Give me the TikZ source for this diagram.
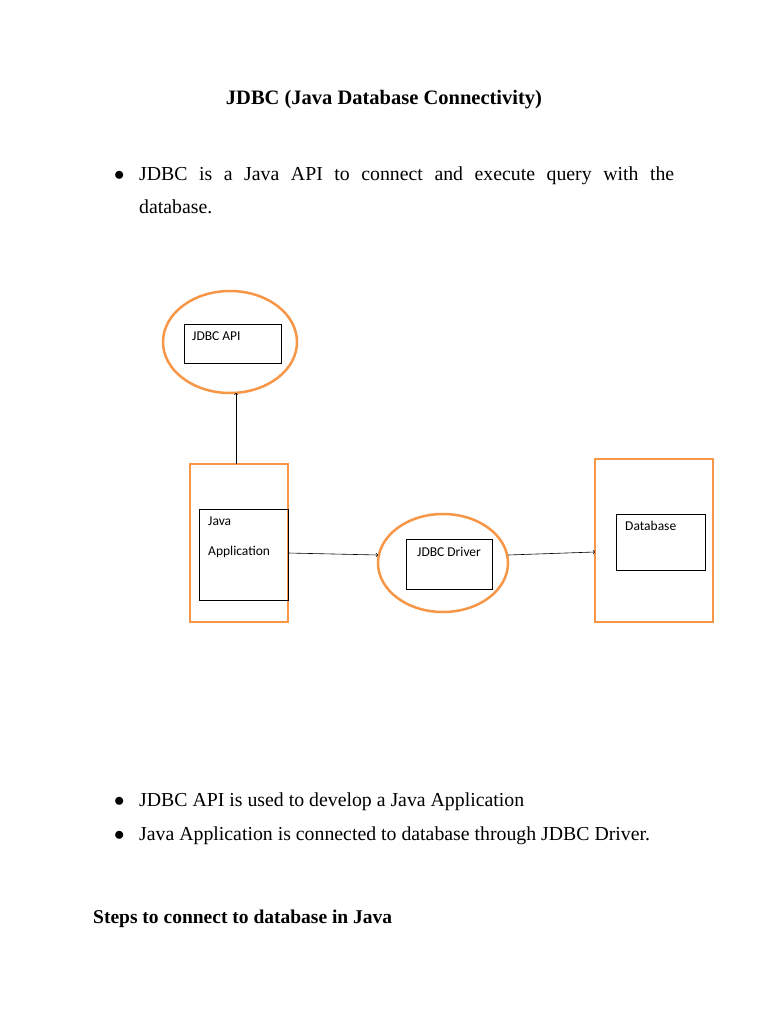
\documentclass[tikz,border=0pt]{standalone}
\usepackage{fontspec}
\setmainfont{Liberation Serif}
\newfontfamily\carlitofont{Carlito}
\usetikzlibrary{shapes.geometric}
\definecolor{org}{RGB}{247,150,70}
\begin{document}
\begin{tikzpicture}[x=1pt,y=-1pt,
 obox/.style={draw=org,line width=2.5pt},
 tbox/.style={draw=black,line width=0.6pt},
 lbl/.style={anchor=west,inner sep=0pt,font=\carlitofont\fontsize{13.5}{16}\selectfont},
 body/.style={anchor=base west,inner sep=0pt,font=\fontsize{19.8}{24}\selectfont},
 arr/.style={->,line width=0.6pt}]
\useasboundingbox (0,0) rectangle (768,1024);
\node[font=\bfseries\fontsize{20.5}{24}\selectfont] (title) at (384,100) {JDBC (Java Database Connectivity)};
\node[body] (b1) at (114,181) {$\bullet$};
\node[body] (t1) at (139,181) {\makebox[535pt][s]{JDBC is a Java API to connect and execute query with the}};
\node[body] (t1b) at (139,214) {database.};
% API
\node[obox,ellipse,minimum width=134pt,minimum height=102pt] (apiE) at (230,342) {};
\draw[tbox] (184,324) rectangle (281,363);
\node[lbl] (api) at (192,336) {JDBC API};
% Java app
\draw[obox] (190,464) rectangle (288,622);
\draw[tbox] (199,509) rectangle (288,600);
\node[lbl] (j1) at (208,521) {Java};
\node[lbl] (j2) at (208,552) {Application};
\coordinate (jtop) at (236,464);
\coordinate (eb) at (236,393);
\draw[arr] (jtop) -- (eb);
% driver
\node[obox,ellipse,minimum width=130pt,minimum height=98pt] (drvE) at (443,563) {};
\draw[tbox] (406,539) rectangle (492,589);
\node[lbl] (drv) at (417,552) {JDBC Driver};
\coordinate (ja) at (288,553);
\coordinate (dw) at (378,555);
\draw[arr] (ja) -- (dw);
% database
\draw[obox] (595,459) rectangle (713,622);
\draw[tbox] (616,514) rectangle (705,570);
\node[lbl] (db) at (625,526) {Database};
\coordinate (de) at (508,555);
\coordinate (dbl) at (595,552);
\draw[arr] (de) -- (dbl);
\node[body] (b2) at (114,806) {$\bullet$};
\node[body] (t2) at (139,806) {JDBC API is used to develop a Java Application};
\node[body] (b3) at (114,840) {$\bullet$};
\node[body] (t3) at (139,840) {Java Application is connected to database through JDBC Driver.};
\node[anchor=base west,inner sep=0pt,font=\bfseries\fontsize{19.5}{24}\selectfont] (steps) at (93,923) {Steps to connect to database in Java};
\end{tikzpicture}
\end{document}
